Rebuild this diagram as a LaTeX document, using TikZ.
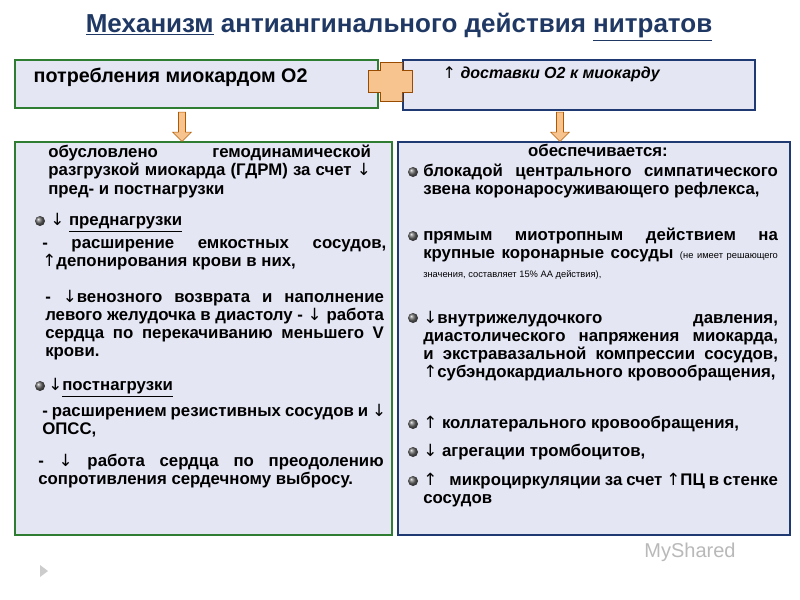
\documentclass[tikz,border=0pt]{standalone}
\usepackage{fontspec}
\setmainfont{Liberation Sans}
\newfontfamily\djfont{DejaVu Sans}
\usetikzlibrary{shapes.arrows}
\definecolor{lav}{HTML}{E4E6F4}
\definecolor{grn}{HTML}{2F7D32}
\definecolor{nav}{HTML}{1F3A73}
\definecolor{org}{HTML}{F7C48F}
\definecolor{ttl}{HTML}{1F3864}
\newcommand{\up}{{\djfont\mdseries↑}}
\newcommand{\dn}{{\djfont\mdseries↓}}
\tikzset{
 gbox/.style={draw=grn,line width=2pt,fill=lav},
 nbox/.style={draw=nav,line width=1.6pt,fill=lav},
 txt/.style={anchor=north west,inner sep=0pt,align=justify,font=\fontsize{12.6}{13.6}\selectfont\bfseries},
 ball/.style={circle,inner sep=0pt,minimum size=7.5pt,ball color=gray!80!black},
 darr/.style={single arrow,draw=orange!70!black,fill=org,shape border rotate=270,minimum height=22pt,minimum width=14pt,single arrow head extend=2pt,inner sep=1pt},
}
\begin{document}
\begin{tikzpicture}[x=0.75pt,y=-0.75pt]
\useasboundingbox (0,0) rectangle (800,600);
\fill[white] (0,0) rectangle (800,600);
\node (title) at (399,27) {\fontsize{19.5}{22}\selectfont\bfseries\color{ttl}\underline{Механизм} антиангинального действия \underline{нитратов}};
% top boxes
\draw[gbox] (15,60) rectangle (378,108);
\node[anchor=west,font=\fontsize{14.8}{17}\selectfont\bfseries] (tl) at (29,77) {потребления миокардом О2};
\draw[nbox] (403,60) rectangle (755,110);
\node[anchor=west,font=\fontsize{12}{14}\selectfont\bfseries\itshape] (tr) at (438,74) {\up\ доставки О2 к миокарду};
% plus connector
\draw[fill=org,draw=orange!60!black,line width=0.6pt] (368,70)--(380,70)--(380,62)--(402,62)--(402,70)--(412,70)--(412,92)--(402,92)--(402,101)--(380,101)--(380,92)--(368,92)--cycle;
% bottom boxes
\draw[gbox] (15,142) rectangle (392,535);
\draw[nbox] (398,142) rectangle (790,535);
\node[darr] (a1) at (182,125) {};
\node[darr] (a2) at (560,125) {};
% left content
\node[txt,text width=242pt] (l1) at (48,145) {обусловлено гемодинамической разгрузкой миокарда (ГДРМ) за счет \dn\ пред- и постнагрузки};
\node[ball] (b1) at (40,221) {};
\node[txt] (l2) at (50,213) {\dn\ \underline{преднагрузки}};
\node[txt,text width=258pt] (l3) at (42,239) {- расширение емкостных сосудов, \up депонирования крови в них,};
\node[txt,text width=254pt] (l4) at (45,290) {- \dn венозного возврата и наполнение левого желудочка в диастолу - \dn\ работа сердца по перекачиванию меньшего V крови.};
\node[ball] (b2) at (40,386) {};
\node[txt] (l5) at (48,378) {\dn\underline{постнагрузки}};
\node[txt,text width=258pt] (l6) at (42,404) {- расширением резистивных сосудов и \dn\ ОПСС,};
\node[txt,text width=259pt] (l7) at (38,454) {- \dn\ работа сердца по преодолению сопротивления сердечному выбросу.};
% right content
\node[txt,anchor=north] (r0) at (598,144) {обеспечивается:};
\node[ball] (c1) at (413,172) {};
\node[txt,text width=266pt] (r1) at (423,164) {блокадой центрального симпатического звена коронаросуживающего рефлекса,};
\node[ball] (c2) at (413,236) {};
\node[txt,text width=266pt] (r2) at (423,228) {прямым миотропным действием на крупные коронарные сосуды {\fontsize{7}{10}\selectfont\mdseries (не имеет решающего значения, составляет 15\% АА действия),}};
\node[ball] (c3) at (413,318) {};
\node[txt,text width=266pt] (r3) at (423,311) {\dn внутрижелудочкого давления, диастолического напряжения миокарда, и экстравазальной компрессии сосудов, \up субэндокардиального кровообращения,};
\node[ball] (c4) at (413,424) {};
\node[txt] (r4) at (423,416) {\up\ коллатерального кровообращения,};
\node[ball] (c5) at (413,452) {};
\node[txt] (r5) at (423,444) {\dn\ агрегации тромбоцитов,};
\node[ball] (c6) at (413,481) {};
\node[txt,text width=266pt] (r6) at (423,473) {\up\ \ \ микроциркуляции за счет \up ПЦ в стенке сосудов};
% watermark and nav mark
\node[font=\fontsize{15}{18}\selectfont,text=gray!55] (wm) at (690,552) {MyShared};
\fill[gray!40] (40,565)--(48,571)--(40,577)--cycle;
\end{tikzpicture}
\end{document}
